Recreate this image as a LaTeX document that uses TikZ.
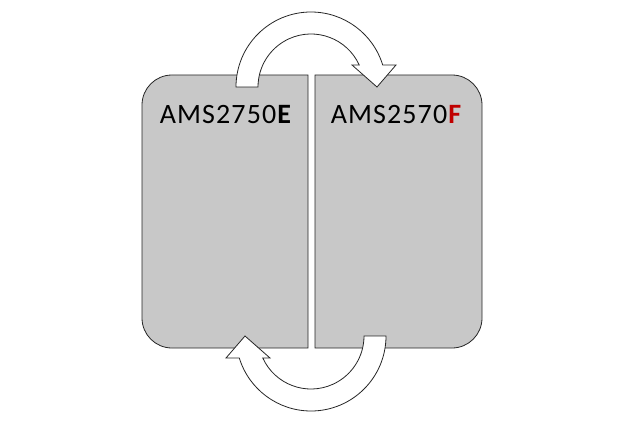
\documentclass[tikz,border=0pt]{standalone}
\usepackage{fontspec}
\setmainfont{Carlito}[LetterSpace=4]
\usepackage{tikz}
\definecolor{boxgray}{RGB}{200,200,200}
\definecolor{revred}{RGB}{192,0,0}
\tikzset{block/.style={draw=black!85,fill=boxgray,line width=0.8pt},
  tag/.style={anchor=base,font=\fontsize{28}{34}\selectfont,inner sep=0pt},
  turnarrow/.pic={
    \draw[fill=white,draw=black!85,line width=0.8pt,line join=miter]
      (-75,0) arc[start angle=180,end angle=17.06,radius=75pt]
      -- (85,22) -- (66,0) -- (41,22)
      -- (24.5:53pt) arc[start angle=24.5,end angle=180,radius=53pt] -- cycle;
  }}

\begin{document}
\begin{tikzpicture}[x=1pt,y=1pt]
\useasboundingbox (0,0) rectangle (624,424);
% the two halves
\draw[block] (308,349) -- (172,349) arc[start angle=90,end angle=180,radius=30pt]
  -- (142,106) arc[start angle=180,end angle=270,radius=30pt] -- (308,76) -- cycle;
\draw[block] (315,349) -- (452,349) arc[start angle=90,end angle=0,radius=30pt]
  -- (482,106) arc[start angle=0,end angle=-90,radius=30pt] -- (315,76) -- cycle;
\node[tag] (old) at (226,301) {AMS2750\textbf{E}};
\node[tag] (new) at (396,301) {AMS2570\textbf{\color{revred}F}};
% swap arrows
\pic at (311,337) {turnarrow};
\pic[rotate=180] at (311,88) {turnarrow};
\end{tikzpicture}
\end{document}
